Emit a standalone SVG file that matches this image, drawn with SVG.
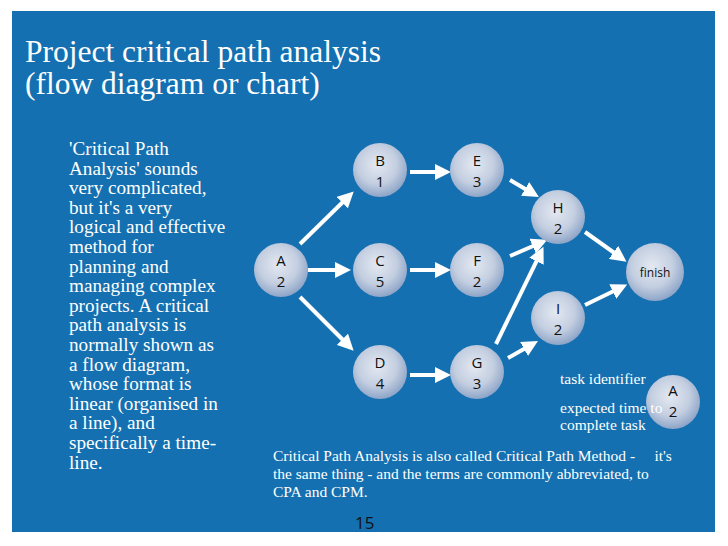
<svg xmlns="http://www.w3.org/2000/svg" width="728" height="546" viewBox="0 0 728 546">
<defs>
<radialGradient id="g" cx="45%" cy="40%" r="60%"><stop offset="0" stop-color="#e4e9f2"/><stop offset="0.6" stop-color="#c3cee0"/><stop offset="1" stop-color="#8ea5c8"/></radialGradient>
<marker id="ah" viewBox="0 0 10 10" refX="5" refY="5" markerWidth="4" markerHeight="4" orient="auto" markerUnits="strokeWidth"><path d="M0,0 L10,5 L0,10 z" fill="#fff"/></marker>
</defs>
<style>
.n{fill:url(#g)}
.t{font-family:"Open Sans","DejaVu Sans",sans-serif;font-size:15px;fill:#111;text-anchor:middle}
.s{font-family:"Liberation Serif",serif;fill:#fff}
.c line{stroke:#fff;stroke-width:4;marker-end:url(#ah)}
</style>
<rect width="728" height="546" fill="#fff"/>
<rect x="12" y="11" width="703" height="521" fill="#1470b0"/>
<text class="s" font-size="31.5" x="25" y="62">Project critical path analysis</text>
<text class="s" font-size="31.5" x="25" y="94">(flow diagram or chart)</text>
<text class="s" font-size="19.2" x="69" y="155"><tspan x="69">'Critical Path</tspan><tspan x="69" dy="19.6">Analysis' sounds</tspan><tspan x="69" dy="19.6">very complicated,</tspan><tspan x="69" dy="19.6">but it's a very</tspan><tspan x="69" dy="19.6">logical and effective</tspan><tspan x="69" dy="19.6">method for</tspan><tspan x="69" dy="19.6">planning and</tspan><tspan x="69" dy="19.6">managing complex</tspan><tspan x="69" dy="19.6">projects. A critical</tspan><tspan x="69" dy="19.6">path analysis is</tspan><tspan x="69" dy="19.6">normally shown as</tspan><tspan x="69" dy="19.6">a flow diagram,</tspan><tspan x="69" dy="19.6">whose format is</tspan><tspan x="69" dy="19.6">linear (organised in</tspan><tspan x="69" dy="19.6">a line), and</tspan><tspan x="69" dy="19.6">specifically a time-</tspan><tspan x="69" dy="19.6">line.</tspan></text>
<g class="c">
<line x1="300" y1="244" x2="348" y2="197"/>
<line x1="308" y1="270" x2="343" y2="270"/>
<line x1="300" y1="297" x2="348" y2="345"/>
<line x1="410" y1="172" x2="443" y2="172"/>
<line x1="410" y1="270" x2="443" y2="270"/>
<line x1="410" y1="375" x2="443" y2="375"/>
<line x1="510" y1="180" x2="532" y2="193"/>
<line x1="510" y1="256" x2="540" y2="243"/>
<line x1="496" y1="344" x2="540" y2="254"/>
<line x1="508" y1="358" x2="531" y2="345"/>
<line x1="585" y1="232" x2="620" y2="257"/>
<line x1="585" y1="305" x2="620" y2="288"/>
</g>
<g id="A"><circle class="n" cx="281" cy="270" r="27"/><text class="t" x="281" y="266">A</text><text class="t" x="281" y="287">2</text></g>
<g id="B"><circle class="n" cx="380" cy="170" r="27"/><text class="t" x="380" y="166">B</text><text class="t" x="380" y="187">1</text></g>
<g id="C"><circle class="n" cx="380" cy="270" r="27"/><text class="t" x="380" y="266">C</text><text class="t" x="380" y="287">5</text></g>
<g id="D"><circle class="n" cx="380" cy="372" r="27"/><text class="t" x="380" y="368">D</text><text class="t" x="380" y="389">4</text></g>
<g id="E"><circle class="n" cx="477" cy="170" r="27"/><text class="t" x="477" y="166">E</text><text class="t" x="477" y="187">3</text></g>
<g id="F"><circle class="n" cx="477" cy="270" r="27"/><text class="t" x="477" y="266">F</text><text class="t" x="477" y="287">2</text></g>
<g id="G"><circle class="n" cx="477" cy="372" r="27"/><text class="t" x="477" y="368">G</text><text class="t" x="477" y="389">3</text></g>
<g id="H"><circle class="n" cx="558" cy="217" r="27"/><text class="t" x="558" y="213">H</text><text class="t" x="558" y="234">2</text></g>
<g id="I"><circle class="n" cx="558" cy="318" r="27"/><text class="t" x="558" y="314">I</text><text class="t" x="558" y="335">2</text></g>
<g id="finish"><circle class="n" cx="655" cy="272" r="29"/><text class="t" x="655" y="277" style="font-size:12px">finish</text></g>
<g id="legend"><circle class="n" cx="673" cy="402" r="27"/><text class="t" x="673" y="396">A</text><text class="t" x="673" y="417">2</text>
<text class="s" font-size="15.5" x="560" y="384">task identifier</text>
<text class="s" font-size="15.5" x="560" y="413">expected time  to</text>
<text class="s" font-size="15.5" x="560" y="430">complete task</text></g>
<text class="s" font-size="15.5" x="273" y="461" xml:space="preserve">Critical Path Analysis is also called Critical Path Method -     it's</text>
<text class="s" font-size="15.5" x="273" y="479">the same thing - and the terms are commonly abbreviated, to</text>
<text class="s" font-size="15.5" x="273" y="497">CPA and CPM.</text>
<text x="355" y="529" font-family="Open Sans,sans-serif" font-size="17" fill="#111">15</text>
</svg>
